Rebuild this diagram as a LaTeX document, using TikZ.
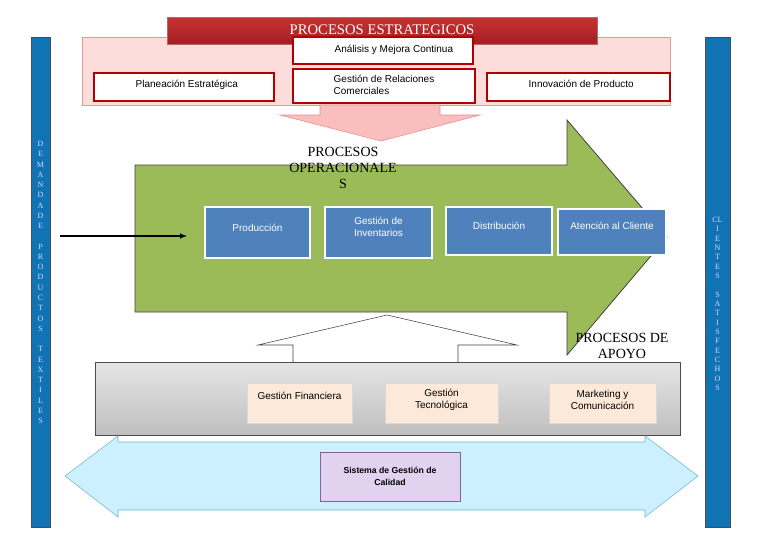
\documentclass[tikz,border=0pt]{standalone}
\usepackage{fontspec}
\setmainfont{Liberation Serif}
\newfontfamily\sansf{Liberation Sans}
\begin{document}
\begin{tikzpicture}[x=0.75pt,y=-0.75pt,
 wbox/.style={draw=red!70!black,line width=1pt,fill=white},
 bbox/.style={draw=white,line width=1.2pt,fill={rgb,255:red,79;green,129;blue,189}},
 btxt/.style={text=white,font=\sansf\fontsize{7.5}{9.5}\selectfont,align=center},
 pbox/.style={draw=white!85!black,fill={rgb,255:red,253;green,233;blue,217}},
 ptxt/.style={font=\sansf\fontsize{7.5}{9.5}\selectfont,align=center},
 lbl/.style={font=\sansf\fontsize{7.5}{9.5}\selectfont,align=left,anchor=north west}]
\useasboundingbox (0,0) rectangle (768,543);
\definecolor{barb}{RGB}{16,115,180}
% side bars
\path[fill=barb,draw=black!70] (31,37) rectangle (50,527);
\path[fill=barb,draw=black!70] (705,37) rectangle (730,527);
\node[text=white!85!blue,font=\fontsize{6}{7.7}\selectfont,align=center,anchor=north,inner sep=0] (left) at (40.5,141)
 {D\\E\\M\\A\\N\\D\\A\\D\\E\\[0pt]~\\P\\R\\O\\D\\U\\C\\T\\O\\S\\~\\T\\E\\X\\T\\I\\L\\E\\S};
\node[text=white!85!blue,font=\fontsize{6}{7}\selectfont,align=center,anchor=north,inner sep=0] (right) at (717.5,217)
 {CL\\I\\E\\N\\T\\E\\S\\~\\S\\A\\T\\I\\S\\F\\E\\C\\H\\O\\S};
% strategic
\path[fill={rgb,255:red,253;green,220;blue,220},draw={rgb,255:red,232;green,150;blue,150}] (82,37) rectangle (670,105);
\path[top color={rgb,255:red,200;green,50;blue,50},bottom color={rgb,255:red,165;green,30;blue,35},draw=red!50!black!60] (167,17) rectangle (597,44);
\node[text=white,font=\fontsize{11}{12}\selectfont] (ptit) at (382,30) {PROCESOS ESTRATEGICOS};
\draw[wbox] (293,37) rectangle (473,64);
\node[lbl] (an) at (330,40) {Análisis y Mejora Continua};
\draw[wbox] (94,73) rectangle (274,101);
\node[lbl] (pl) at (131,75) {Planeación Estratégica};
\draw[wbox] (293,69) rectangle (475,103);
\node[lbl] (gr) at (329,70) {Gestión de Relaciones\\Comerciales};
\draw[wbox] (487,73) rectangle (670,101);
\node[lbl] (in) at (524,75) {Innovación de Producto};
% pink down arrow
\path[fill={rgb,255:red,250;green,190;blue,190},draw={rgb,255:red,230;green,140;blue,140}] (320,105)--(440,105)--(440,115)--(480,115)--(381,141)--(280,115)--(320,115)--cycle;
% green arrow
\path[fill={rgb,255:red,155;green,187;blue,89},draw=black!75,line width=0.6pt] (135,165)--(567,165)--(567,120)--(667,237)--(567,355)--(567,312)--(135,312)--cycle;
\node[font=\fontsize{10.5}{12}\selectfont,align=center] (op) at (343,168) {PROCESOS\\OPERACIONALE\\S};
\draw[bbox] (205,207) rectangle (310,258); \node[btxt] (prod) at (257.5,228) {Producción};
\draw[bbox] (325,207) rectangle (432,258); \node[btxt] (inv) at (378.5,227) {Gestión de\\Inventarios};
\draw[bbox] (446,207) rectangle (552,255); \node[btxt] (dist) at (499,226) {Distribución};
\draw[bbox] (558,209) rectangle (666,255); \node[btxt] (at) at (612,226) {Atención al Cliente};
\coordinate (in0) at (60,236);
\draw[-latex,line width=0.8pt] (in0) -- (187,236);
% up arrow
\path[fill=white,draw=black!75] (387,315)--(517,345)--(458,345)--(458,363)--(293,363)--(293,345)--(258,345)--cycle;
% support box
\path[top color=white!90!black,bottom color=white!75!black,draw=black!70] (95,362) rectangle (680,435);
\node[font=\fontsize{10.5}{12}\selectfont,align=center] (ap) at (622,346) {PROCESOS DE\\APOYO};
\draw[pbox] (247,383) rectangle (352,423); \node[ptxt] (fin) at (299.5,396) {Gestión Financiera};
\draw[pbox] (385,383) rectangle (498,423); \node[ptxt] (tec) at (441.5,400) {Gestión\\Tecnológica};
\draw[pbox] (549,383) rectangle (656,423); \node[ptxt] (mk) at (602.5,400) {Marketing y\\Comunicación};
% double arrow
\path[fill={rgb,255:red,205;green,240;blue,255},draw={rgb,255:red,110;green,180;blue,210}] (65,476)--(118,436)--(118,442)--(645,442)--(645,436)--(698,476)--(645,517)--(645,510)--(118,510)--(118,517)--cycle;
\node[draw={rgb,255:red,128;green,100;blue,162},fill={rgb,255:red,225;green,210;blue,240},minimum width=140pt*0.75,minimum height=49pt*0.75,font=\sansf\bfseries\fontsize{6.5}{9.5}\selectfont,align=center] (sgc) at (390,476.5) {Sistema de Gestión de\\Calidad};
\end{tikzpicture}
\end{document}
